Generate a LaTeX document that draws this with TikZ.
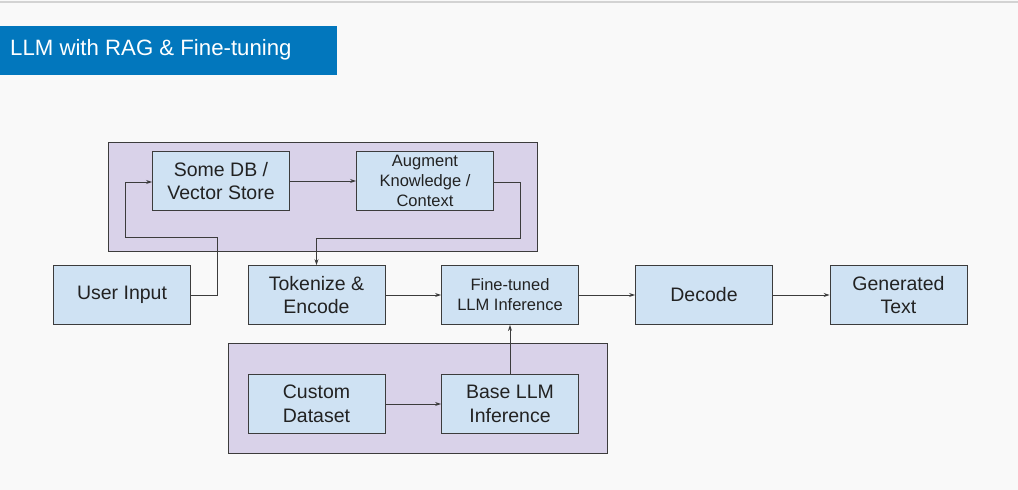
\documentclass[tikz,border=0pt]{standalone}
\usepackage{fontspec}
\setmainfont{Liberation Sans}
\usetikzlibrary{arrows.meta}
\definecolor{bg}{HTML}{F9F9F9}
\definecolor{topline}{HTML}{D3D3D3}
\definecolor{titleblue}{HTML}{0277BD}
\definecolor{boxfill}{HTML}{CFE2F3}
\definecolor{groupfill}{HTML}{D9D2E9}
\definecolor{edge}{HTML}{3C3C3C}
\definecolor{txt}{HTML}{222222}
\tikzset{
  procbox/.style={draw=edge, line width=0.9pt, fill=boxfill, minimum width=137pt, minimum height=59pt,
    inner sep=0pt, align=center, text=txt, font=\fontsize{19.5}{23.5}\selectfont},
  smallbox/.style={procbox, font=\fontsize{16.5}{20}\selectfont},
  groupbox/.style={draw=edge, line width=0.9pt, fill=groupfill},
  conn/.style={draw=edge, line width=0.9pt, -{Stealth[length=6pt,width=4pt]}},
}
\begin{document}
\begin{tikzpicture}[x=1pt,y=-1pt]
\useasboundingbox (0,0) rectangle (1018,490);
\fill[bg] (0,0) rectangle (1018,490);
\draw[topline, line width=1.5pt] (0,2) -- (1018,2);
% title
\fill[titleblue] (0,26) rectangle (337,75);
\node[anchor=west, inner sep=0pt, text=white, font=\fontsize{22.2}{24}\selectfont] (title) at (10,50) {LLM with RAG \& Fine-tuning};
% groups
\filldraw[groupbox] (108,142) rectangle (537,251);
\filldraw[groupbox] (228,343) rectangle (607,453);
% boxes
\node[procbox] (db) at (221,181) {Some DB /\\Vector Store};
\node[smallbox] (aug) at (425,181) {Augment\\Knowledge /\\Context};
\node[procbox] (user) at (122,295) {User Input};
\node[procbox] (tok) at (316.5,295) {Tokenize \&\\Encode};
\node[smallbox] (ft) at (510,295) {Fine-tuned\\LLM Inference};
\node[procbox] (dec) at (704,295) {Decode};
\node[procbox] (gen) at (898.5,295) {Generated\\Text};
\node[procbox] (cd) at (316.5,404) {Custom\\Dataset};
\node[procbox] (base) at (510,404) {Base LLM\\Inference};
% connectors
\coordinate (u1) at (217,295);
\coordinate (u2) at (217,237);
\coordinate (u3) at (125,237);
\coordinate (u4) at (125,182);
\draw[conn] (user.east) -- (u1) -- (u2) -- (u3) -- (u4) -- (db.west |- u4);
\draw[conn] (db.east) -- (aug.west);
\coordinate (a1) at (520,182);
\coordinate (a2) at (520,238);
\coordinate (a3) at (316.5,238);
\draw[conn] (aug.east |- a1) -- (a1) -- (a2) -- (a3) -- (tok.north);
\draw[conn] (tok.east) -- (ft.west);
\draw[conn] (ft.east) -- (dec.west);
\draw[conn] (dec.east) -- (gen.west);
\draw[conn] (cd.east) -- (base.west);
\draw[conn] (base.north) -- (ft.south);
\end{tikzpicture}
\end{document}
